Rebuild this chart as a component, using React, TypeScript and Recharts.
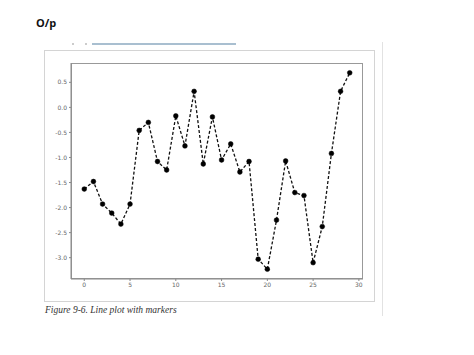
import React from 'react';
import { LineChart, Line, XAxis, YAxis } from 'recharts';

const STEPS = [0, 1, 2, 3, 4, 5, 6, 7, 8, 9, 10, 11, 12, 13, 14, 15, 16, 17, 18, 19, 20, 21, 22, 23, 24, 25, 26, 27, 28, 29];
const WALK = [
  -1.63, -1.48, -1.93, -2.11, -2.33, -1.93, -0.46, -0.3, -1.08, -1.25,
  -0.17, -0.77, 0.32, -1.13, -0.19, -1.05, -0.73, -1.29, -1.08, -3.03,
  -3.23, -2.25, -1.07, -1.7, -1.76, -3.1, -2.38, -0.92, 0.32, 0.69,
];
const X_TICKS = [0, 5, 10, 15, 20, 25, 30];
const Y_TICKS = [0.5, 0, -0.5, -1, -1.5, -2, -2.5, -3];

const data = STEPS.map((x, i) => ({ x, y: WALK[i] }));

const tickStyle = { fontSize: 6, fill: '#666', fontFamily: 'DejaVu Sans' };

export default function App() {
  return (
    <div style={{ position: 'absolute', left: 0, top: 0, width: 474, height: 355, background: '#fff', overflow: 'hidden' }}>
      <div style={{ position: 'absolute', left: 36, top: 15, fontFamily: 'Open Sans', fontWeight: 700, fontSize: 11, color: '#111' }}>O/p</div>

      {/* faint scrap of the page above the figure */}
      <div style={{ position: 'absolute', left: 72, top: 43, width: 2, height: 2, background: '#ccc' }} />
      <div style={{ position: 'absolute', left: 85, top: 43, width: 2, height: 2, background: '#ccc' }} />
      <div style={{ position: 'absolute', left: 92, top: 43, width: 144, height: 2, background: '#a9bfd0' }} />

      <div style={{ position: 'absolute', left: 382, top: 42, width: 1, height: 274, background: '#e2e2e2' }} />
      <div style={{ position: 'absolute', left: 44, top: 50, width: 329, height: 250, border: '1px solid #d4d4d4' }} />
      {/* plot frame (matplotlib spines) */}
      <div style={{ position: 'absolute', left: 71, top: 63, width: 292, height: 216, border: '1px solid #999', boxSizing: 'border-box' }} />

      <div style={{ position: 'absolute', left: 44, top: 50 }}>
        <LineChart width={330} height={251} data={data} margin={{ top: 13, right: 11, bottom: 0, left: 0 }}>
          <XAxis
            dataKey="x"
            type="number"
            domain={[-1.45, 30.45]}
            ticks={X_TICKS}
            tick={tickStyle}
            tickSize={2}
            height={22}
            stroke="#888"
            allowDataOverflow
          />
          <YAxis
            type="number"
            domain={[-3.426, 0.886]}
            ticks={Y_TICKS}
            tick={tickStyle}
            tickSize={2}
            tickFormatter={(v: number) => v.toFixed(1)}
            width={27}
            stroke="#888"
            allowDataOverflow
          />
          <Line
            dataKey="y"
            stroke="#111"
            strokeWidth={1.3}
            strokeDasharray="3 2"
            dot={{ r: 2.4, fill: '#000', stroke: '#000', strokeWidth: 0.5, strokeDasharray: '' }}
            isAnimationActive={false}
          />
        </LineChart>
      </div>

      <div style={{ position: 'absolute', left: 45, top: 305, fontFamily: 'Liberation Serif', fontStyle: 'italic', fontSize: 9.5, color: '#333', whiteSpace: 'nowrap' }}>
        Figure 9-6. Line plot with markers
      </div>
    </div>
  );
}
